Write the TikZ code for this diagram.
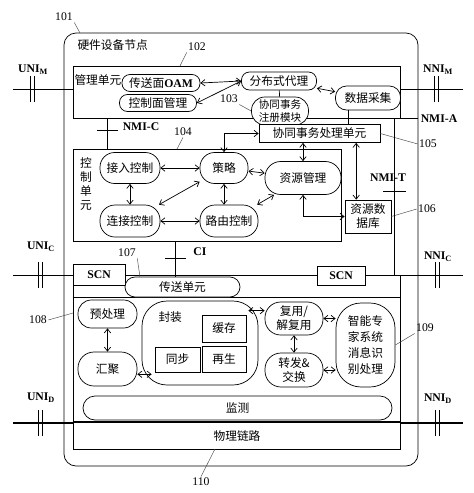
\documentclass[tikz,border=0pt]{standalone}
\usepackage{fontspec}
\setmainfont{Liberation Serif}
\newfontfamily\cjk{Noto Sans CJK SC}
\usetikzlibrary{arrows.meta, fit}
\tikzstyle{frame} = [rectangle, draw=black, inner sep=0pt]
\tikzstyle{unit} = [rectangle, draw=black, inner sep=0pt, align=center, font=\cjk]
\tikzstyle{pill} = [rectangle, rounded corners=0.24cm, draw=black, fill=white, inner sep=0pt, align=center, font=\cjk]
\tikzstyle{unitname} = [inner sep=1pt, align=center, font=\cjk]
\tikzstyle{tag} = [inner sep=1pt, font=\rmfamily\bfseries]
\tikzstyle{num} = [inner sep=1pt, font=\rmfamily]
\tikzstyle{lead} = [line width=0.4pt, black!70]
\tikzstyle{arrow} = [<->, >={Straight Barb[length=3.5pt, width=5.5pt]}]
\tikzset{sz/.style 2 args={minimum width=#1*0.03cm, minimum height=#2*0.03cm}}

\begin{document}
\begin{tikzpicture}[x=0.03cm, y=-0.03cm, line width=0.6pt]
\useasboundingbox (0,0) rectangle (474,493);

% hardware node
\node[frame, rounded corners=0.36cm, fit={(64,33) (418,466)}] (hw) {};
\node[unitname, anchor=west] (hwname) at (76,45) {硬件设备节点};
\node[num] (n101) at (64,17) {101};
\coordinate (p101) at (80,33);
\draw[lead] (n101.south east) -- (p101);

% management unit
\node[frame, fit={(73,66) (400,118)}] (mgmt) {};
\node[unitname, anchor=west] (mgmtname) at (73,80) {管理单元};
\node[num] (n102) at (197,47) {102};
\coordinate (p102) at (180,66);
\draw[lead] (n102.south west) -- (p102);
\node[pill, sz={78}{17}] (oam) at (161,83) {传送面{\rmfamily\bfseries OAM}};
\node[pill, sz={77}{17}] (cpm) at (158,103) {控制面管理};
\node[pill, sz={75}{18}] (agent) at (279,81) {分布式代理};
\node[pill, sz={65}{24}, rounded corners=0.33cm] (collect) at (368,98) {数据采集};
\node[pill, sz={57}{28}, rounded corners=0.4cm, font=\cjk\small] (reg) at (280,111) {协同事务\\注册模块};
\node[num] (n103) at (229,99) {103};
\draw[lead] (n103.south east) -- (reg.west);

\draw[arrow] (oam.east) -- (agent.west);
\draw[arrow] (cpm.east) -- (agent.west);
\draw[arrow] (agent) -- (collect);
\draw (agent) -- (reg);

\coordinate (um) at (13,89);
\coordinate (nm) at (463,89);
\draw (um) -- (um -| mgmt.west);
\draw (nm -| mgmt.east) -- (nm);
\node[tag] (unim) at (33,70) {UNI\textsubscript{M}};
\node[tag] (nnim) at (438,70) {NNI\textsubscript{M}};
\draw (mgmt.south east) -- (mgmt.south east -| hw.east);
\node[tag] (nmia) at (439,119) {NMI-A};

% control unit
\node[frame, fit={(73,149) (341,241)}] (ctrl) {};
\node[unitname] (ctrlname) at (86,184) {控\\制\\单\\元};
\node[num] (n104) at (183,132) {104};
\coordinate (p104) at (177,149);
\draw[lead] (n104.south) -- (p104);

\coordinate (nmic) at (107,130);
\draw (nmic |- mgmt.south) -- (nmic |- ctrl.north);
\draw (nmic) ++(-10,0) -- ++(21,0);
\node[tag] (nmicname) at (141,127) {NMI-C};

\node[pill, sz={60}{31}, rounded corners=0.44cm] (access) at (130,168) {接入控制};
\node[pill, sz={48}{31}, rounded corners=0.44cm] (policy) at (224,168) {策略};
\node[pill, sz={76}{33}, rounded corners=0.47cm] (resmgmt) at (303,178) {资源管理};
\node[pill, sz={60}{32}, rounded corners=0.45cm] (conn) at (130,221) {连接控制};
\node[pill, sz={58}{32}, rounded corners=0.45cm] (route) at (229,221) {路由控制};

\draw[arrow] (access) -- (policy);
\draw[arrow] (access) -- (conn);
\draw[arrow] (conn) -- (policy);
\draw[arrow] (conn) -- (route);
\draw[arrow] (policy.south) -- (policy.south |- route.north);
\draw[arrow] (policy) -- (resmgmt);
\draw[arrow] (route) -- (resmgmt);

% coordination unit and resource database
\node[unit, sz={121}{18}, fill=white] (coord) at (319.5,133.5) {协同事务处理单元};
\node[num] (n105) at (428,144) {105};
\draw[lead] (n105.west) -- (coord.east);
\coordinate (cx) at (348,0);
\draw (cx |- collect.south) -- (cx |- coord.north);
\draw[arrow] (coord.west) -| (policy.north);
\draw[arrow] (resmgmt.north |- coord.south) -- (resmgmt.north);

\node[unit, sz={46}{33}] (db) at (368,216.5) {资源数\\据库};
\node[num] (n106) at (427,209) {106};
\draw[lead] (n106.west) -- (db.east);
\draw[arrow] (db.125 |- coord.south) -- (db.125);
\draw[arrow] (resmgmt.south) |- (db.west);

% transfer unit and data plane
\node[frame, fit={(73,275) (400,449)}] (lower) {};
\coordinate (split) at (0,297);
\draw (lower.west |- split) -- (lower.east |- split);
\node[unit, sz={52}{21}, fill=white, font=\rmfamily\bfseries] (scnl) at (99,274.5) {SCN};
\node[unit, sz={48}{19}, fill=white, font=\rmfamily\bfseries] (scnr) at (341,275.5) {SCN};
\node[pill, sz={115}{20}, rounded corners=0.3cm] (xfer) at (182.5,287) {传送单元};
\node[num] (n107) at (127,253) {107};
\coordinate (p107) at (140,277);
\draw[lead] (n107.south east) -- (p107);

\coordinate (nmit) at (394,191);
\draw (nmit |- mgmt.south) -- (nmit |- lower.north);
\draw (nmit) ++(-11,0) -- ++(23,0);
\node[tag] (nmitname) at (388,178) {NMI-T};

\coordinate (ci) at (175,258);
\draw (ci |- ctrl.south) -- (ci |- xfer.north);
\draw (ci) ++(-10,0) -- ++(21,0);
\node[tag] (ciname) at (200,252) {CI};

\coordinate (uc) at (13,275);
\coordinate (nc) at (463,275);
\draw (uc) -- (uc -| scnl.west);
\draw (scnr.east |- nc) -- (nc);
\node[tag] (unic) at (41,247) {UNI\textsubscript{C}};
\node[tag] (nnic) at (438,257) {NNI\textsubscript{C}};

\node[num] (n108) at (38,320) {108};
\coordinate (p108) at (73,313);
\draw[lead] (n108.east) -- (p108);
\node[pill, sz={59}{28}, rounded corners=0.4cm] (pre) at (107.5,314) {预处理};
\node[pill, sz={59}{34}, rounded corners=0.48cm] (agg) at (107.5,369) {汇聚};
\node[pill, sz={116}{84}, rounded corners=0.75cm] (encap) at (200,343) {};
\node[unitname, anchor=west] (encapname) at (157,317) {封装};
\node[unit, sz={44}{27}] (buffer) at (224,328.5) {缓存};
\node[unit, sz={45}{25}] (sync) at (177.5,359.5) {同步};
\node[unit, sz={44}{26}] (regen) at (224,359) {再生};
\node[pill, sz={58}{33}, rounded corners=0.47cm] (mux) at (294,318.5) {复用/\\解复用};
\node[pill, sz={58}{34}, rounded corners=0.48cm] (fwd) at (294,370) {转发\&\\交换};
\node[pill, sz={59}{84}, rounded corners=0.75cm] (expert) at (365.5,345) {智能专\\[1.5pt]家系统\\[1.5pt]消息识\\[1.5pt]别处理};
\node[num] (n109) at (425,328) {109};
\draw[lead] (n109.south west) -- (expert.east);

\draw[arrow] (pre) -- (agg);
\draw[arrow, shorten >=-0.3cm] (agg.-10) -- (agg.-10 -| encap.west);
\draw[arrow, shorten <=-0.3cm] (mux.165 -| encap.east) -- (mux.165);
\draw[arrow] (mux) -- (fwd);
\draw[arrow] (mux.east) -- (mux.east -| expert.west);
\draw[arrow] (fwd.east) -- (fwd.east -| expert.west);

% monitoring and physical link
\node[pill, sz={309}{24}, rounded corners=0.36cm] (monitor) at (237.5,408) {监测};
\coordinate (phy) at (0,422);
\draw[line width=1pt] (lower.west |- phy) -- (lower.east |- phy);
\coordinate (ud) at (13,423);
\coordinate (nd) at (463,423);
\draw[line width=2pt] (ud) -- (ud -| lower.west);
\draw[line width=2pt] (nd -| lower.east) -- (nd);
\node[unitname] (phyname) at (237,436) {物理链路};
\node[tag] (unid) at (41,398) {UNI\textsubscript{D}};
\node[tag] (nnid) at (438,399) {NNI\textsubscript{D}};
\node[num] (n110) at (201,482) {110};
\coordinate (p110) at (215,449);
\draw[lead] (n110.north) -- (p110);

% interface ticks
\coordinate (tum) at (32,89);
\coordinate (tnm) at (436,89);
\coordinate (tuc) at (40,275);
\coordinate (tnc) at (437,275);
\coordinate (tud) at (40,423);
\coordinate (tnd) at (437,423);
\foreach \t in {tum,tnm,tuc,tnc,tud,tnd}
  \draw (\t) ++(-2,-13) -- ++(0,26) (\t) ++(2,-13) -- ++(0,26);
\end{tikzpicture}
\end{document}
